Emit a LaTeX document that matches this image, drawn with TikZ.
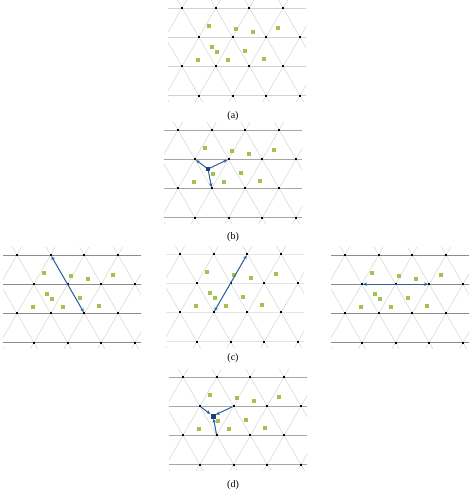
\documentclass[tikz,border=0pt]{standalone}
\usepackage{fontspec}
\setmainfont{Liberation Serif}
\usetikzlibrary{arrows.meta}

\definecolor{ptgreen}{RGB}{160,195,80}
\definecolor{arrowblue}{RGB}{45,95,155}
\definecolor{darkblue}{RGB}{25,65,120}

% one panel: name, x, y, colour of the horizontal rows
\newcommand{\lattice}[4]{%
  \begin{scope}[shift={(#2,#3)}]
    \begin{scope}
      \clip (-14,-8) rectangle (124,93);
      \foreach \r in {0,...,3}
        \draw[#4, line width=0.5pt] (-20,\r*29.2) -- (130,\r*29.2);
      \foreach \k in {-3,...,4}
        \draw[gridline] ({\k*33.7-16.85},-29.2) -- ({\k*33.7+67.4},116.8);
      \foreach \k in {-1,...,7}
        \draw[gridline] ({\k*33.7+16.85},-29.2) -- ({\k*33.7-67.4},116.8);
    \end{scope}
    % lattice points
    \foreach \r/\s in {1/0,2/16.85,3/0,4/16.85}
      \foreach \c in {1,...,4}
        \node[latdot] (#1-\r-\c) at ({\s+(\c-1)*33.7},{(\r-1)*29.2}) {};
    % data points
    \foreach \n/\px/\py in {1/27/18,2/54/21,3/71/24,4/96/20,5/30/39,6/35/44,7/46/52,8/63/43,9/82/51,10/16/52}
      \node[datapt] (#1-p\n) at (\px,\py) {};
  \end{scope}}

\begin{document}
\begin{tikzpicture}[x=1pt,y=-1pt]
    % Define styles
    \tikzstyle{gridline} = [black!17, line width=0.5pt]
    \tikzstyle{latdot} = [fill=black, inner sep=0pt, minimum size=2pt]
    \tikzstyle{datapt} = [fill=ptgreen, inner sep=0pt, minimum size=4pt]
    \tikzstyle{query} = [fill=darkblue, inner sep=0pt, minimum size=3.5pt]
    \tikzstyle{blink} = [draw=arrowblue, line width=1pt, -{Stealth[length=4pt,width=3.5pt]}]
    \tikzstyle{dblink} = [draw=arrowblue, line width=1pt, {Stealth[length=4pt,width=3.5pt]}-{Stealth[length=4pt,width=3.5pt]}]
    \tikzstyle{caption} = [font=\fontsize{10}{12}\selectfont]

    \useasboundingbox (0,0) rectangle (474,496);

    % Panels
    \lattice{a}{182}{8}{black!18}
    \lattice{b}{178}{130}{black!35}
    \lattice{cl}{17}{255}{black!45}
    \lattice{cm}{180}{254}{black!10}
    \lattice{cr}{345}{255}{black!45}
    \lattice{d}{183}{377}{black!35}

    % (b) arrows out of the query point
    \node[query] (b-q) at (b-p5) {};
    \draw[blink] (b-q) -- (b-2-1);
    \draw[blink] (b-q) -- (b-2-2);
    \draw[blink] (b-q) -- (b-3-2);

    % (c) edges of the lattice
    \draw[dblink] (cl-1-2) -- (cl-3-3);
    \draw[dblink] (cm-1-3) -- (cm-3-2);
    \draw[dblink] (cr-2-1) -- (cr-2-3);

    % (d) arrows into the query point
    \node[query, minimum size=5pt] (d-q) at (d-p5) {};
    \draw[blink] (d-2-1) -- (d-q);
    \draw[blink] (d-2-2) -- (d-q);
    \draw[blink] (d-3-2) -- (d-q);

    % Captions
    \node[caption] (lab-a) at (233,116) {(a)};
    \node[caption] (lab-b) at (233,237) {(b)};
    \node[caption] (lab-c) at (233,358) {(c)};
    \node[caption] (lab-d) at (233,485) {(d)};
\end{tikzpicture}
\end{document}
